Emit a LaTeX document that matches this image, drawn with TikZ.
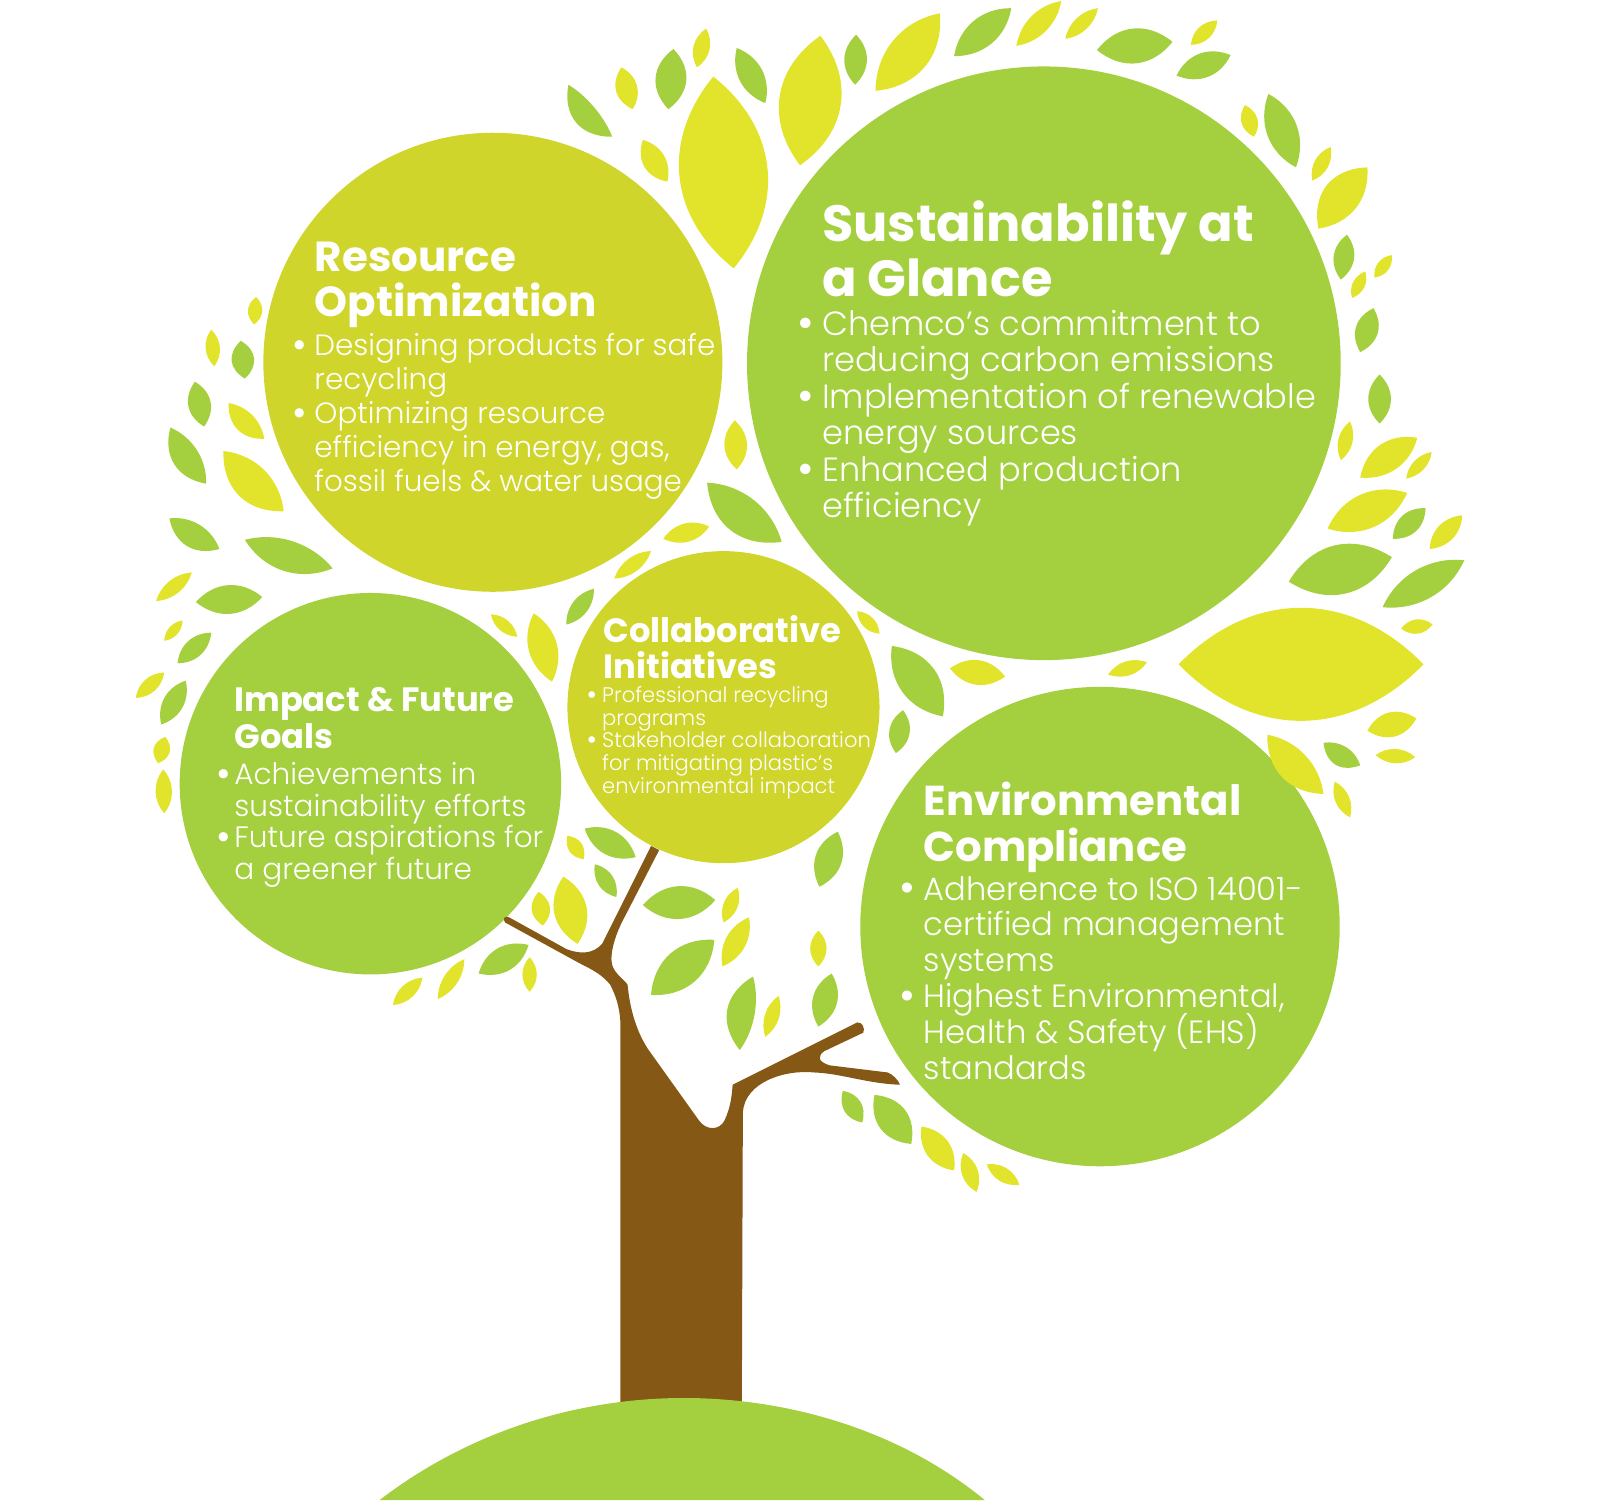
\documentclass[tikz,border=0pt]{standalone}
\usepackage{fontspec}
\usetikzlibrary{calc}
\setmainfont{Poppins}
\newfontfamily\lightfont{Poppins Light}
\definecolor{leafgreen}{HTML}{A4CF3E}
\definecolor{olive}{HTML}{CFD52B}
\definecolor{lemon}{HTML}{E2E42B}
\definecolor{bark}{HTML}{855915}
\tikzset{
	bubble/.style={circle,inner sep=0pt},
	heading/.style 2 args={anchor=north west,inner sep=0pt,text=white,align=left,font=\bfseries\fontsize{#1}{#2}\selectfont},
	points/.style 2 args={anchor=north west,inner sep=0pt,text=white,align=left,font=\lightfont\fontsize{#1}{#2}\selectfont}
}
\newcommand{\dotmark}[1][0.25em]{\llap{\raisebox{-0.09em}{\smash{\scalebox{1.35}{\textbullet}}}\hspace{#1}}}
\newcommand{\leaves}[2]{
	\foreach \xa/\ya/\xb/\yb/\wa/\wb in {#2} {
		\fill[#1] (\xa,\ya)
			.. controls ($(\xa,\ya)!.3!(\xb,\yb)!\wa*0.39pt!90:(\xb,\yb)$) and ($(\xa,\ya)!.7!(\xb,\yb)!\wa*0.39pt!90:(\xb,\yb)$) .. (\xb,\yb)
			.. controls ($(\xa,\ya)!.7!(\xb,\yb)!\wb*0.39pt!-90:(\xb,\yb)$) and ($(\xa,\ya)!.3!(\xb,\yb)!\wb*0.39pt!-90:(\xb,\yb)$) .. (\xa,\ya) -- cycle;
	}
}
\begin{document}
\begin{tikzpicture}[x=0.010204cm,y=-0.010204cm]
	\useasboundingbox (0,0) rectangle (1568,1470);
	% the five circles
	\node[bubble,fill=leafgreen,minimum size=5.939cm] (Sustainability) at (1023,356) {};
	\node[bubble,fill=olive,minimum size=4.592cm] (Resource) at (483,355) {};
	\node[bubble,fill=olive,minimum size=3.122cm] (Collaborative) at (709,693) {};
	\node[bubble,fill=leafgreen,minimum size=3.816cm] (Impact) at (363,768) {};
	\node[bubble,fill=leafgreen,minimum size=4.796cm] (Environmental) at (1078,908) {};
	% trunk and ground
	\fill[bark] (608,1375) -- (608,1002) .. controls (607,985) and (603,975) .. (598,965)
		.. controls (590,955) and (580,950) .. (568,944) -- (495,904)
		.. controls (492,900) and (495,897) .. (499,899) -- (555,930)
		.. controls (570,936) and (582,934) .. (590,925) -- (638,829) -- (646,833) -- (613,897)
		.. controls (603,915) and (597,935) .. (600,946) .. controls (603,955) and (612,960) .. (615,965)
		.. controls (617,985) and (622,1008) .. (635,1028) -- (685,1098)
		.. controls (692,1108) and (705,1108) .. (710,1098) .. controls (716,1085) and (717,1075) .. (718,1063)
		-- (840,1002) .. controls (845,1001) and (848,1008) .. (846,1012) -- (808,1030)
		.. controls (802,1034) and (800,1040) .. (813,1044) -- (870,1051) .. controls (875,1053) and (880,1058) .. (882,1063)
		.. controls (850,1062) and (825,1052) .. (798,1051) .. controls (770,1048) and (730,1060) .. (728,1090)
		-- (727,1375) -- cycle;
	\fill[leafgreen] (372,1470) .. controls (470,1395) and (580,1370) .. (670,1370)
		.. controls (770,1370) and (880,1400) .. (965,1470) -- cycle;
	% leaves
	\leaves{leafgreen}{557/83/600/134/5/18, 660/48/655/107/15/15, 722/47/750/101/12/12, 236/334/240/371/11/11,
		191/374/200/418/11/11, 167/419/202/474/10/16, 166/508/215/538/10/14, 240/529/326/557/13/17,
		192/590/257/585/14/14, 207/620/174/650/9/9, 182/667/158/710/10/10, 582/577/555/612/8/8,
		693/473/766/531/15/22, 839/34/838/83/11/11, 991/8/935/55/14/14, 1075/49/1149/41/17/17,
		1206/54/1153/74/12/12, 1243/92/1270/164/15/15, 1320/230/1314/274/10/10, 1346/302/1333/345/11/11,
		1352/367/1352/415/11/11, 1397/498/1365/528/10/10, 1364/546/1263/570/24/24, 1435/549/1355/595/15/15,
		874/633/924/702/20/18, 885/696/878/738/10/10, 1297/728/1333/750/8/12, 821/815/803/869/13/13,
		815/954/802/1006/12/12, 826/1069/845/1100/9/9, 857/1073/893/1121/15/15, 573/812/623/840/12/12,
		583/847/604/879/8/8, 630/887/701/882/16/16, 700/921/638/975/18/18, 738/957/725/1029/8/19,
		518/926/469/954/12/12}
	\leaves{lemon}{609/66/620/107/10/11, 692/28/683/66/8/8, 699/75/719/263/43/43, 630/137/654/178/10/12,
		804/35/784/162/30/30, 251/291/249/318/7/7, 207/323/210/359/7/7, 224/395/259/430/8/12, 219/442/278/501/15/20,
		188/561/153/589/7/7, 179/608/161/628/5/5, 161/659/133/684/7/7, 162/722/155/748/8/8,
		160/754/161/797/8/8, 481/602/507/624/6/6, 523/601/541/668/14/14, 720/412/722/460/11/11,
		695/516/650/528/9/9, 638/540/602/567/7/7, 921/13/858/89/22/18, 1040/1/996/45/10/10,
		1076/8/1044/38/7/7, 1193/20/1167/44/7/7, 1220/103/1229/134/8/8, 1304/144/1286/177/7/7,
		1340/164/1292/224/16/20, 1364/250/1347/272/6/6, 1338/266/1325/292/6/6, 1323/413/1314/451/7/7,
		1389/429/1333/468/13/15, 1403/443/1378/469/6/6, 1379/483/1301/518/17/17, 1433/505/1401/538/9/9,
		1155/651/1395/651/55/55, 1404/612/1373/616/7/7, 840/599/862/621/6/6, 931/655/985/663/12/12,
		1124/649/1086/661/7/7, 1242/720/1297/778/13/18, 1388/704/1340/716/12/12, 1387/742/1348/740/7/7,
		1308/766/1323/801/7/7, 802/912/802/947/8/8, 903/1104/935/1147/12/12, 944/1130/957/1168/8/8,
		967/1141/999/1161/7/7, 556/819/572/842/7/7, 528/874/532/907/9/9, 552/859/566/925/16/16,
		723/870/709/904/7/7, 734/899/708/947/10/10, 763/976/750/1016/7/7, 519/938/519/972/7/7,
		455/940/429/979/7/7, 414/958/385/985/7/7}
	% texts
	\node[heading={14.5}{15.6}] (SustainabilityTitle) at (805,196) {Sustainability at\\a Glance};
	\node[points={9.55}{10.4}] (SustainabilityText) at (805,303) {\dotmark Chemco’s commitment to\\reducing carbon emissions\\\dotmark Implementation of renewable\\energy sources\\\dotmark Enhanced production\\efficiency};
	\node[heading={11.95}{13}] (ResourceTitle) at (308,236) {Resource\\Optimization};
	\node[points={8.35}{9.66}] (ResourceText) at (307.5,326) {\dotmark Designing products for safe\\recycling\\\dotmark Optimizing resource\\efficiency in energy, gas,\\fossil fuels \& water usage};
	\node[heading={9.6}{10.45}] (CollaborativeTitle) at (591,602) {Collaborative\\Initiatives};
	\node[points={6}{6.47}] (CollaborativeText) at (589.5,672) {\dotmark Professional recycling\\programs\\\dotmark Stakeholder collaboration\\for mitigating plastic’s\\environmental impact};
	\node[heading={9.6}{10.4}] (ImpactTitle) at (229,673) {Impact \& Future\\Goals};
	\node[points={8.4}{9}] (ImpactText) at (229,746.5) {\dotmark[0.1em]Achievements in\\sustainability efforts\\\dotmark[0.1em]Future aspirations for\\a greener future};
	\node[heading={11.9}{13}] (EnvironmentalTitle) at (904.5,766) {Environmental\\Compliance};
	\node[points={9.15}{10.2}] (EnvironmentalText) at (904.5,858) {\dotmark Adherence to ISO 14001-\\certified management\\systems\\\dotmark Highest Environmental,\\\smash{Health \& Safety (EHS)}\\standards};
\end{tikzpicture}
\end{document}
